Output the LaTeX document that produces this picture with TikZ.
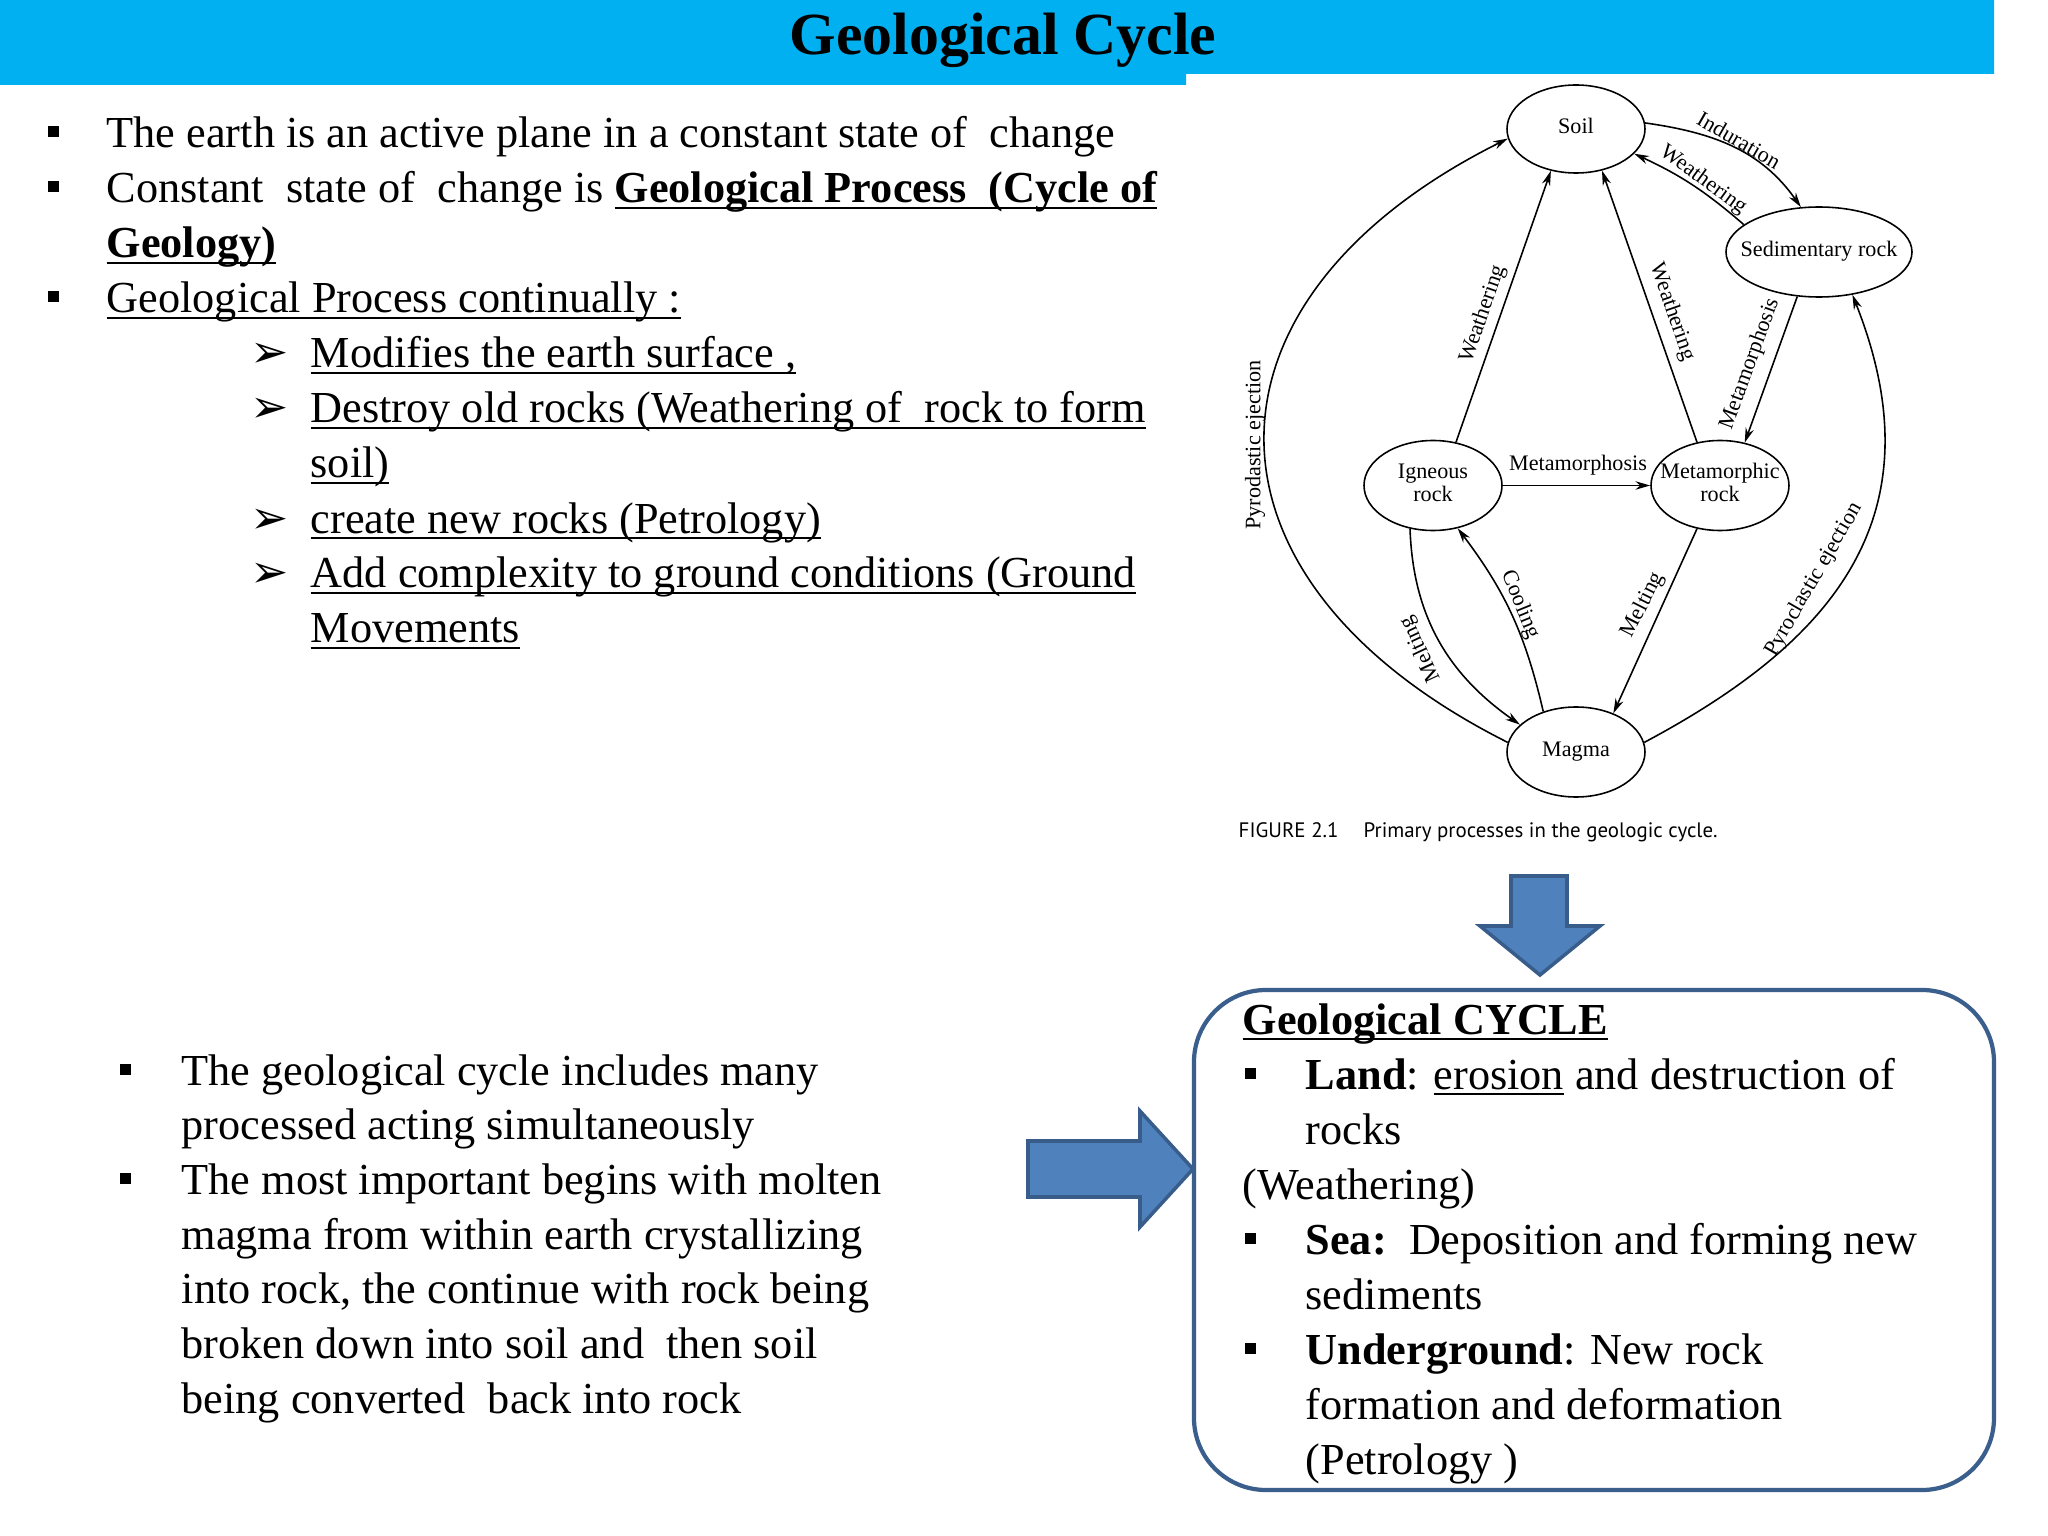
\documentclass[tikz,border=0pt]{standalone}
\usepackage{fontspec}
\setmainfont{Liberation Serif}
\newfontfamily\capfont{PT Sans}
\newfontfamily\symfont{DejaVu Sans}
\usetikzlibrary{shapes.geometric, arrows.meta, positioning, calc}

\definecolor{titlebar}{RGB}{0,176,240}
\definecolor{arrowfill}{RGB}{79,129,189}
\definecolor{arrowedge}{RGB}{56,93,138}
\definecolor{boxblue}{RGB}{58,95,140}

\newcommand{\uln}[1]{\underline{\smash{#1}}}
\newcommand{\subbul}{{\symfont\fontsize{13}{13}\selectfont ➢}}
\newcommand{\rk}[1]{\makebox[0pt]{\begin{tabular}{@{}c@{}}#1\end{tabular}}}

\begin{document}
\begin{tikzpicture}[
    txt/.style={anchor=base west, inner sep=0, font=\fontsize{12.6}{15.6}\selectfont},
    rock/.style={ellipse, draw, line width=0.45pt, inner sep=0, minimum width=1.38cm, minimum height=0.90cm, font=\fontsize{6.3}{6.6}\selectfont},
    lbl/.style={inner sep=0, font=\fontsize{6.3}{6.6}\selectfont},
    flow/.style={-{Stealth[length=4.2pt,width=2.4pt]}, line width=0.45pt},
    blockarrow/.style={fill=arrowfill, draw=arrowedge, line width=1pt}
]
    \useasboundingbox (0,0) rectangle (20.48,-15.36);
    \fill[white] (0,0) rectangle (20.48,-15.36);

    % Title bar
    \fill[titlebar] (0,0) -- (19.94,0) -- (19.94,-0.74) -- (11.86,-0.74) -- (11.86,-0.85) -- (0,-0.85) -- cycle;
    \node[anchor=base, inner sep=0, font=\bfseries\fontsize{17}{20}\selectfont] (title) at (10.03,-0.55) {Geological Cycle};

    % Upper text
    \foreach \y in {-1.48,-2.03,-3.13} \fill (0.475,\y+0.105) rectangle ++(0.11,0.11);
    \node[txt] (t1) at (1.06,-1.48) {The earth is an active plane in a constant state of\ \ change};
    \node[txt] (t2) at (1.06,-2.03) {Constant\ \ state of\ \ change is \textbf{\uln{Geological Process\ \ (Cycle of}}};
    \node[txt] (t3) at (1.06,-2.58) {\textbf{\uln{Geology)}}};
    \node[txt] (t4) at (1.06,-3.13) {\uln{Geological Process continually :}};
    \node[txt] (s5) at (2.50,-3.68) {\subbul};
    \node[txt] (t5) at (3.10,-3.68) {\uln{Modifies the earth surface ,}};
    \node[txt] (s6) at (2.50,-4.23) {\subbul};
    \node[txt] (t6) at (3.10,-4.23) {\uln{Destroy old rocks (Weathering of\ \ rock to form}};
    \node[txt] (t7) at (3.10,-4.78) {\uln{soil)}};
    \node[txt] (s8) at (2.50,-5.33) {\subbul};
    \node[txt] (t8) at (3.10,-5.33) {\uln{create new rocks (Petrology)}};
    \node[txt] (s9) at (2.50,-5.88) {\subbul};
    \node[txt] (t9) at (3.10,-5.88) {\uln{Add complexity to ground conditions (Ground}};
    \node[txt] (t10) at (3.10,-6.43) {\uln{Movements}};

    % Lower text
    \foreach \y in {-10.85,-11.94} \fill (1.195,\y+0.105) rectangle ++(0.11,0.11);
    \node[txt] (b1) at (1.81,-10.85) {The geological cycle includes many};
    \node[txt] (b2) at (1.81,-11.40) {processed acting simultaneously};
    \node[txt] (b3) at (1.81,-11.94) {The most important begins with molten};
    \node[txt] (b4) at (1.81,-12.49) {magma from within earth crystallizing};
    \node[txt] (b5) at (1.81,-13.03) {into rock, the continue with rock being};
    \node[txt] (b6) at (1.81,-13.58) {broken down into soil and\ \ then soil};
    \node[txt] (b7) at (1.81,-14.13) {being converted\ \ back into rock};

    % Cycle diagram
    \node[rock, minimum height=0.88cm] (soil) at (15.76,-1.29) {\rk{Soil}};
    \node[rock, minimum width=1.86cm] (sed) at (18.19,-2.52) {\rk{Sedimentary rock}};
    \node[rock] (ign) at (14.33,-4.855) {\rk{Igneous\\rock}};
    \node[rock] (meta) at (17.20,-4.855) {\rk{Metamorphic\\rock}};
    \node[rock] (magma) at (15.76,-7.52) {\rk{Magma}};

    \draw[flow] (ign.62) -- (soil.239);
    \draw[flow] (meta.118) -- (soil.302);
    \draw[flow] (sed.244) -- (meta.60);
    \draw[flow] (ign.east) -- (meta.west);
    \draw[flow] (meta.242) -- (magma.46);
    \draw[flow] (ign.242) to[out=-88, in=145] (magma.154);
    \draw[flow] (magma.129) to[bend right=12] (ign.300);
    \draw[flow] (sed.160) to[bend right=8] (soil.337);
    \draw[flow] (soil.5) to[out=-8, in=125] (sed.112);
    \draw[flow] (magma.172) .. controls (11.84,-5.80) and (11.84,-3.00) .. (soil.188);
    \draw[flow] (magma.8) .. controls (18.31,-6.43) and (19.41,-5.18) .. (sed.308);

    \node[lbl, rotate=-30] (lind) at (17.39,-1.40) {Induration};
    \node[lbl, rotate=-36] (lws) at (17.03,-1.80) {Weathering};
    \node[lbl, rotate=71] (lwi) at (14.83,-3.14) {Weathering};
    \node[lbl, rotate=-71] (lwm) at (16.72,-3.12) {Weathering};
    \node[lbl, rotate=70] (lmsm) at (17.50,-3.64) {Metamorphosis};
    \node[lbl] (lmim) at (15.78,-4.65) {Metamorphosis};
    \node[lbl, rotate=90] (lpl) at (12.55,-4.45) {Pyrodastic ejection};
    \node[lbl, rotate=60] (lpr) at (18.14,-5.80) {Pyroclastic ejection};
    \node[lbl, rotate=115] (lmel) at (14.21,-6.49) {Melting};
    \node[lbl, rotate=-68] (lcool) at (15.20,-6.05) {Cooling};
    \node[lbl, rotate=63] (lmer) at (16.43,-6.05) {Melting};

    \node[anchor=base west, inner sep=0, font=\capfont\fontsize{5.95}{7}\selectfont] (cap1) at (12.38,-8.38) {FIGURE 2.1};
    \node[anchor=base west, inner sep=0, font=\capfont\fontsize{5.95}{7}\selectfont] (cap2) at (13.63,-8.38) {Primary processes in the geologic cycle.};

    % Block arrows
    \draw[blockarrow] (15.11,-8.76) -- (15.67,-8.76) -- (15.67,-9.26) -- (16.00,-9.26) -- (15.40,-9.75) -- (14.80,-9.26) -- (15.11,-9.26) -- cycle;
    \draw[blockarrow] (10.28,-11.41) -- (11.40,-11.41) -- (11.40,-11.11) -- (11.93,-11.69) -- (11.40,-12.27) -- (11.40,-11.97) -- (10.28,-11.97) -- cycle;

    % Summary box
    \draw[boxblue, line width=1.2pt, rounded corners=0.72cm] (11.94,-9.90) rectangle (19.94,-14.90);
    \foreach \y in {-10.89,-12.54,-13.64} \fill (12.445,\y+0.105) rectangle ++(0.11,0.11);
    \node[txt] (c0) at (12.42,-10.34) {\textbf{\uln{Geological CYCLE}}};
    \node[txt] (c1) at (13.05,-10.89) {\textbf{Land}: \uln{erosion} and destruction of};
    \node[txt] (c2) at (13.05,-11.44) {rocks};
    \node[txt] (c3) at (12.42,-11.99) {(Weathering)};
    \node[txt] (c4) at (13.05,-12.54) {\textbf{Sea:}\ \ Deposition and forming new};
    \node[txt] (c5) at (13.05,-13.09) {sediments};
    \node[txt] (c6) at (13.05,-13.64) {\textbf{Underground}: New rock};
    \node[txt] (c7) at (13.05,-14.19) {formation and deformation};
    \node[txt] (c8) at (13.05,-14.74) {(Petrology )};
\end{tikzpicture}
\end{document}
